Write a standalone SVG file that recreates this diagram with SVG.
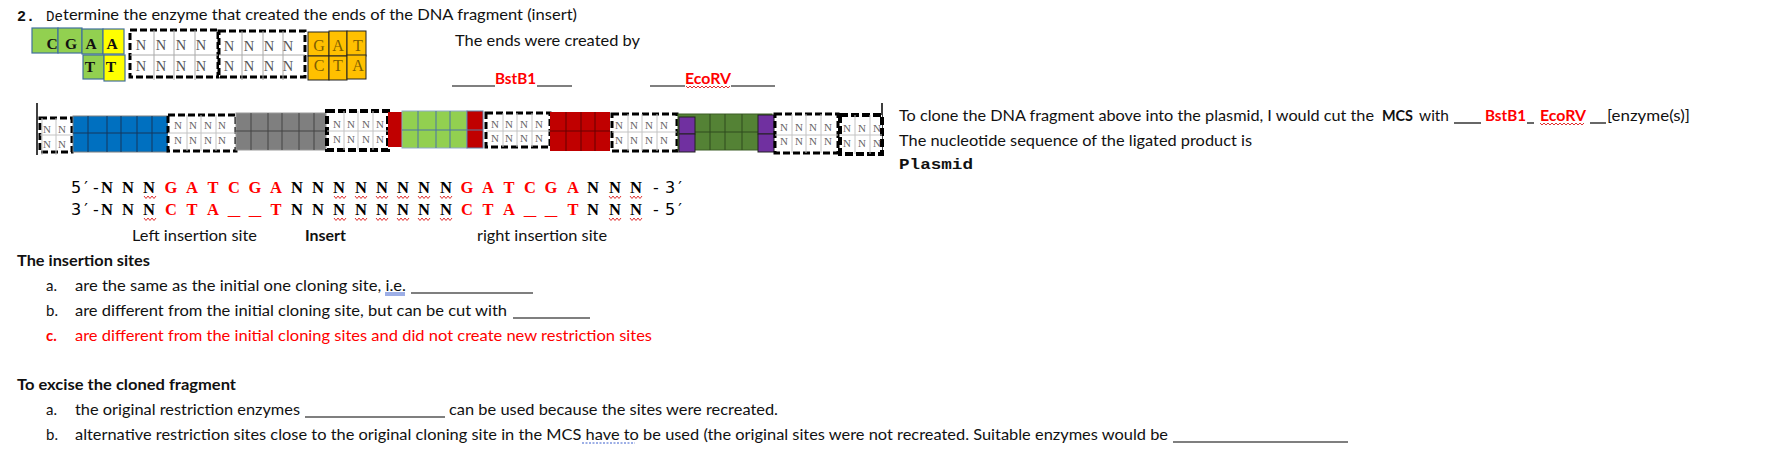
<svg xmlns="http://www.w3.org/2000/svg" width="1771" height="465" viewBox="0 0 1771 465">
<style>
.t{font-family:"Lato","Liberation Sans",sans-serif;font-size:15px;fill:#111}
.b{font-weight:700}
.r{fill:#f00}
.m{font-family:"Liberation Mono",monospace;font-size:15px;fill:#111}
.mb{font-family:"Liberation Mono",monospace;font-weight:700;font-size:15px;fill:#111}
.seq{font-family:"Liberation Serif",serif;font-weight:700;font-size:16.5px;fill:#000;text-anchor:middle}
.rs{fill:#f00}
.us{font-family:"Liberation Mono",monospace;font-size:21px}
.end{font-family:"DejaVu Sans",sans-serif;font-size:16px;fill:#000;text-anchor:middle}
.n{font-family:"Liberation Serif",serif;font-size:11px;fill:#666;text-anchor:middle}
.nt{font-family:"Liberation Serif",serif;font-size:14.5px;fill:#555;text-anchor:middle}
.top{font-family:"Liberation Serif",serif;font-weight:700;font-size:15.5px;fill:#111;text-anchor:middle}
.gold{font-family:"Liberation Serif",serif;font-size:16px;fill:#7f6000;text-anchor:middle}
.d{fill:#fff;stroke:#000;stroke-width:3;stroke-dasharray:7 3}
.d2{fill:#fff;stroke:#000;stroke-width:4;stroke-dasharray:8 3}
.gl{stroke:#aaa;stroke-width:1;fill:none}
.gp{stroke:#c4c4c4;stroke-width:1;fill:none}
.u{stroke:#000;stroke-width:1.2}
.w{fill:none;stroke:#e03030;stroke-width:1}
.wb{fill:none;stroke:#3a5fcd;stroke-width:1}
</style>
<defs>
<path id="wave" class="w" d="M0 0l2 2.5l2-2.5l2 2.5l2-2.5l2 2.5l2-2.5"/>
</defs>
<rect width="1771" height="465" fill="#fff"/>

<g id="heading">
<text class="mb" x="17" y="21">2.</text>
<text class="m" x="46" y="21" textLength="17" lengthAdjust="spacingAndGlyphs">De</text>
<text class="t" x="63" y="20" textLength="514" lengthAdjust="spacingAndGlyphs">termine the enzyme that created the ends of the DNA fragment (insert)</text>
<text class="t" x="455" y="46" textLength="185" lengthAdjust="spacingAndGlyphs">The ends were created by</text>
</g>

<g id="insert-fragment">
<rect x="32" y="28" width="26" height="25" fill="#92d050" stroke="#41719c" stroke-width="1.2"/>
<rect x="58" y="28" width="24" height="25" fill="#92d050" stroke="#41719c" stroke-width="1.2"/>
<rect x="82" y="29" width="21" height="25" fill="#92d050" stroke="#41719c" stroke-width="1.2"/>
<rect x="103" y="29" width="21" height="25" fill="#ffff00" stroke="#41719c" stroke-width="1.2"/>
<rect x="83" y="55" width="21" height="24" fill="#92d050" stroke="#41719c" stroke-width="1.2"/>
<rect x="104" y="55" width="21" height="26" fill="#ffff00" stroke="#41719c" stroke-width="1.2"/>
<text class="top" x="52 71 91 112" y="49">CGAA</text>
<text class="top" x="90 111" y="72">TT</text>
<rect class="d" x="130" y="30" width="88" height="47"/>
<rect class="d" x="219" y="31" width="86" height="46"/>
<path class="gl" d="M130 55H218M154 30V80M174 30V80M195 30V80M219 55H305M242 31V80M263 31V80M283 31V80"/>
<text class="nt" x="141 161 181 201" y="50">NNNN</text>
<text class="nt" x="141 161 181 201" y="71">NNNN</text>
<text class="nt" x="229 249 269 288" y="51">NNNN</text>
<text class="nt" x="229 249 269 288" y="71">NNNN</text>
<g fill="#ffc000" stroke="#222" stroke-width="1">
<rect x="308" y="32" width="21" height="24"/><rect x="329" y="31" width="18" height="25"/><rect x="347" y="31" width="19" height="25"/>
<rect x="308" y="56" width="21" height="24"/><rect x="329" y="56" width="18" height="24"/><rect x="347" y="55" width="19" height="24"/>
</g>
<text class="gold" x="319 338 358" y="51">GAT</text>
<text class="gold" x="319 338 358" y="71">CTA</text>
</g>

<g id="enzyme-answers">
<line class="u" x1="452" y1="86" x2="495" y2="86"/>
<text class="t b r" x="495" y="84" textLength="41" lengthAdjust="spacingAndGlyphs">BstB1</text>
<line class="u" x1="537" y1="86" x2="572" y2="86"/>
<line class="u" x1="650" y1="86" x2="685" y2="86"/>
<text class="t b r" x="685" y="84" textLength="46" lengthAdjust="spacingAndGlyphs">EcoRV</text>
<line class="u" x1="731" y1="86" x2="775" y2="86"/>
<path class="w" d="M686 86l2 2l2-2l2 2l2-2l2 2l2-2l2 2l2-2l2 2l2-2l2 2l2-2l2 2l2-2l2 2l2-2l2 2l2-2l2 2l2-2l2 2l2-2"/>
</g>

<g id="plasmid">
<path d="M37 103V155M882 103V155" stroke="#000" stroke-width="1.5" fill="none"/>
<rect class="d" x="40" y="118" width="32" height="34"/>
<path class="gp" d="M40 135H72M42 118V155M56 118V155"/>
<text class="n" x="47 62" y="133">NN</text>
<text class="n" x="47 62" y="148">NN</text>

<rect x="73" y="116" width="95" height="36" fill="#0070c0" stroke="#7f7f7f"/>
<path d="M73 133H168M88 116V152M107 116V152M121 116V152M137 116V152M152 116V152" stroke="#14375c" fill="none"/>

<rect class="d" x="168" y="115" width="68" height="36"/>
<path class="gp" d="M168 133H236M187 115V151M201 115V151M216 115V151"/>
<text class="n" x="178 193 208 222" y="129">NNNN</text>
<text class="n" x="178 193 208 222" y="144">NNNN</text>

<rect x="236" y="113" width="90" height="37" fill="#7f7f7f" stroke="#999"/>
<path d="M236 131H326M251 113V150M268 113V150M282 113V150M299 113V150M314 113V150" stroke="#444" fill="none"/>

<rect class="d2" x="327" y="111" width="61" height="39"/>
<path class="gp" d="M327 131H388M344 111V150M358 111V150M373 111V150"/>
<text class="n" x="337 351 366 380" y="128">NNNN</text>
<text class="n" x="337 351 366 380" y="143">NNNN</text>

<rect x="388" y="112" width="14" height="35" fill="#c00000"/>
<rect x="402" y="111" width="65" height="37" fill="#92d050" stroke="#8ea9c8"/>
<path d="M402 130H467M418 111V148M436 111V148M450 111V148" stroke="#4a72a8" fill="none"/>
<rect x="467" y="111" width="16" height="37" fill="#c00000" stroke="#5b7fa6"/>
<line x1="467" y1="130" x2="483" y2="130" stroke="#5b7fa6"/>

<rect class="d" x="486" y="113" width="64" height="34"/>
<path class="gp" d="M486 131H550M503 113V147M517 113V147M532 113V147"/>
<text class="n" x="495 509 524 539" y="128">NNNN</text>
<text class="n" x="495 509 524 539" y="142">NNNN</text>

<rect x="550" y="112" width="60" height="39" fill="#c00000"/>
<path d="M550 131H610M566 112V151M581 112V151M595 112V151" stroke="#600" fill="none"/>

<rect class="d" x="612" y="114" width="65" height="37"/>
<path class="gp" d="M612 132H677M628 114V151M642 114V151M657 114V151"/>
<text class="n" x="619 634 649 664" y="129">NNNN</text>
<text class="n" x="619 634 649 664" y="144">NNNN</text>

<rect x="678" y="114" width="94" height="36" fill="#548235" stroke="#3d5f26"/>
<path d="M678 132H772M710 114V150M725 114V150M742 114V150" stroke="#2f4a1e" fill="none"/>
<rect x="679" y="117" width="16" height="17" fill="#7030a0" stroke="#222"/>
<rect x="679" y="134" width="16" height="18" fill="#7030a0" stroke="#222"/>
<rect x="758" y="115" width="16" height="19" fill="#7030a0" stroke="#222"/>
<rect x="758" y="134" width="16" height="18" fill="#7030a0" stroke="#222"/>

<rect class="d" x="775" y="114" width="63" height="39"/>
<path class="gp" d="M775 135H838M792 114V153M806 114V153M821 114V153"/>
<text class="n" x="784 799 813 828" y="131">NNNN</text>
<text class="n" x="784 799 813 828" y="145">NNNN</text>

<rect class="d2" x="840" y="115" width="42" height="39"/>
<path class="gp" d="M840 135H882M855 115V154M870 115V154"/>
<text class="n" x="847 862 877" y="132">NNN</text>
<text class="n" x="847 862 877" y="147">NNN</text>
</g>

<g id="sequence">
<text class="end" x="76 86 96" y="193">5′-</text>
<text class="end" x="76 86 96" y="215">3′-</text>
<text class="seq" x="107 128 149" y="193">NNN</text>
<text class="seq rs" x="171 192 213 234 255 276" y="193">GATCGA</text>
<text class="seq" x="297 318 339 361 382 403 424 446" y="193">NNNNNNNN</text>
<text class="seq rs" x="467 488 509 530 551 573" y="193">GATCGA</text>
<text class="seq" x="593 615 636" y="193">NNN</text>
<text class="end" x="656 670 680" y="193">-3′</text>
<text class="seq" x="107 128 149" y="215">NNN</text>
<text class="seq rs" x="171 192 213" y="215">CTA</text>
<text class="seq rs us" x="234 255" y="215">__</text>
<text class="seq rs" x="276" y="215">T</text>
<text class="seq" x="297 318 339 361 382 403 424 446" y="215">NNNNNNNN</text>
<text class="seq rs" x="467 488 509" y="215">CTA</text>
<text class="seq rs us" x="530 551" y="215">__</text>
<text class="seq rs" x="573" y="215">T</text>
<text class="seq" x="593 615 636" y="215">NNN</text>
<text class="end" x="656 670 680" y="215">-5′</text>
<use href="#wave" x="144" y="196"/><use href="#wave" x="334" y="196"/><use href="#wave" x="355" y="196"/><use href="#wave" x="376" y="196"/><use href="#wave" x="397" y="196"/><use href="#wave" x="418" y="196"/><use href="#wave" x="440" y="196"/><use href="#wave" x="609" y="196"/><use href="#wave" x="630" y="196"/>
<use href="#wave" x="144" y="218"/><use href="#wave" x="334" y="218"/><use href="#wave" x="355" y="218"/><use href="#wave" x="376" y="218"/><use href="#wave" x="397" y="218"/><use href="#wave" x="418" y="218"/><use href="#wave" x="440" y="218"/><use href="#wave" x="609" y="218"/><use href="#wave" x="630" y="218"/>
<text class="t" x="132" y="241" textLength="125" lengthAdjust="spacingAndGlyphs">Left insertion site</text>
<text class="t b" x="305" y="241" textLength="41" lengthAdjust="spacingAndGlyphs">Insert</text>
<text class="t" x="477" y="241" textLength="130" lengthAdjust="spacingAndGlyphs">right insertion site</text>
</g>

<g id="cloning-text">
<text class="t" x="899" y="121" textLength="475" lengthAdjust="spacingAndGlyphs">To clone the DNA fragment above into the plasmid, I would cut the</text>
<text class="t b" x="1382" y="121" textLength="31" lengthAdjust="spacingAndGlyphs">MCS</text>
<text class="t" x="1419" y="121" textLength="30" lengthAdjust="spacingAndGlyphs">with</text>
<line class="u" x1="1454" y1="123" x2="1481" y2="123"/>
<text class="t b r" x="1485" y="121" textLength="41" lengthAdjust="spacingAndGlyphs">BstB1</text>
<line class="u" x1="1527" y1="123" x2="1534" y2="123"/>
<text class="t b r" x="1540" y="121" textLength="46" lengthAdjust="spacingAndGlyphs">EcoRV</text>
<path class="w" d="M1540 123l2 2l2-2l2 2l2-2l2 2l2-2l2 2l2-2l2 2l2-2l2 2l2-2l2 2l2-2l2 2l2-2l2 2l2-2l2 2l2-2l2 2l2-2"/>
<line class="u" x1="1590" y1="123" x2="1606" y2="123"/>
<text class="t" x="1607" y="121" textLength="83" lengthAdjust="spacingAndGlyphs">[enzyme(s)]</text>
<text class="t" x="899" y="146" textLength="353" lengthAdjust="spacingAndGlyphs">The nucleotide sequence of the ligated product is</text>
<text class="mb" x="899" y="169" textLength="74" lengthAdjust="spacingAndGlyphs">Plasmid</text>
</g>

<g id="insertion-sites">
<text class="t b" x="17" y="266" textLength="133" lengthAdjust="spacingAndGlyphs">The insertion sites</text>
<text class="t" x="46" y="291">a.</text>
<text class="t" x="75" y="291" textLength="331" lengthAdjust="spacingAndGlyphs">are the same as the initial one cloning site, i.e.</text>
<path class="wb" d="M385 293H405M385 295H405"/>
<line class="u" x1="411" y1="293" x2="533" y2="293"/>
<text class="t" x="46" y="316">b.</text>
<text class="t" x="75" y="316" textLength="432" lengthAdjust="spacingAndGlyphs">are different from the initial cloning site, but can be cut with</text>
<line class="u" x1="513" y1="318" x2="590" y2="318"/>
<text class="t b r" x="46" y="341">c.</text>
<text class="t r" x="75" y="341" textLength="577" lengthAdjust="spacingAndGlyphs">are different from the initial cloning sites and did not create new restriction sites</text>
</g>

<g id="excise">
<text class="t b" x="17" y="390" textLength="219" lengthAdjust="spacingAndGlyphs">To excise the cloned fragment</text>
<text class="t" x="46" y="415">a.</text>
<text class="t" x="75" y="415" textLength="225" lengthAdjust="spacingAndGlyphs">the original restriction enzymes</text>
<line class="u" x1="305" y1="417" x2="445" y2="417"/>
<text class="t" x="449" y="415" textLength="329" lengthAdjust="spacingAndGlyphs">can be used because the sites were recreated.</text>
<text class="t" x="46" y="440">b.</text>
<text class="t" x="75" y="440" textLength="1093" lengthAdjust="spacingAndGlyphs">alternative restriction sites close to the original cloning site in the MCS have to be used (the original sites were not recreated. Suitable enzymes would be</text>
<line class="wb" x1="582" y1="443" x2="635" y2="443" stroke-dasharray="2 1.5" stroke-width="1.5"/>
<line class="u" x1="1173" y1="442" x2="1348" y2="442"/>
</g>
</svg>
